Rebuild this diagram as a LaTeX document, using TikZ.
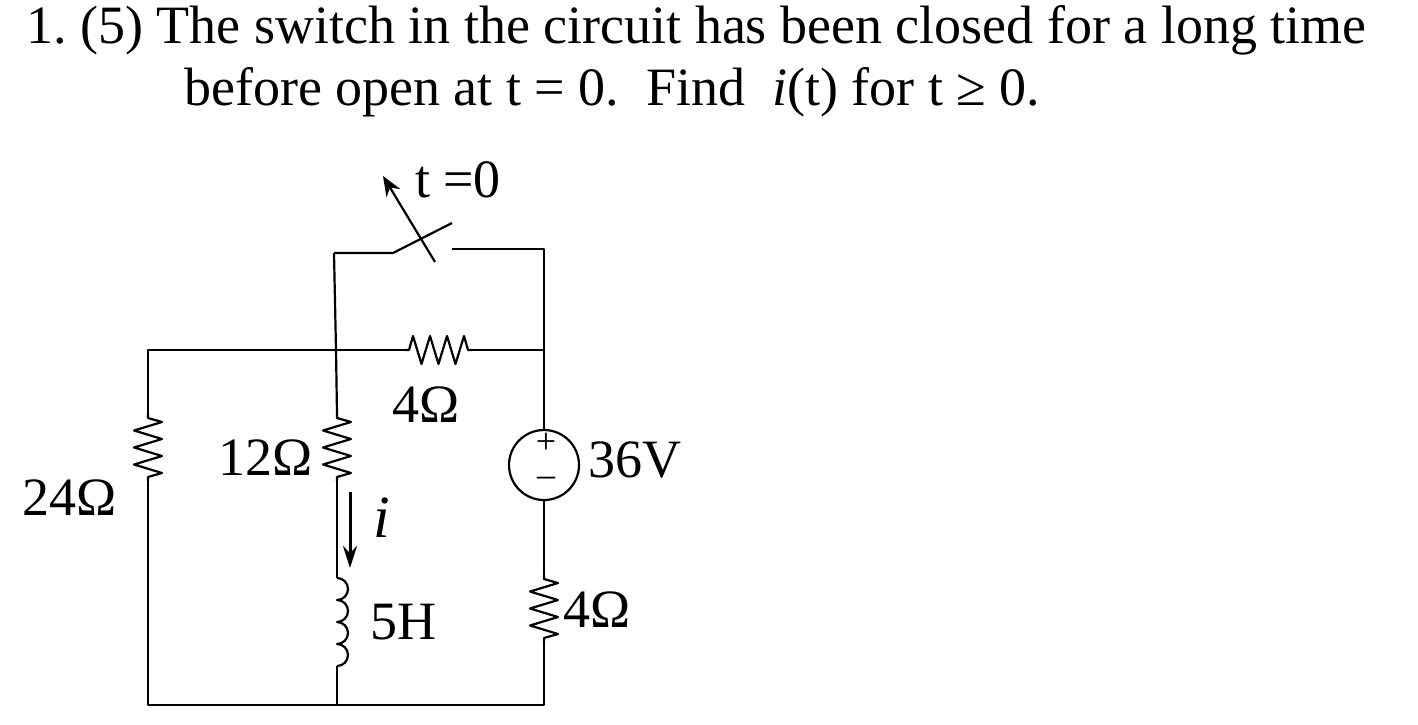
\documentclass[tikz,border=0pt]{standalone}
\usepackage{fontspec}
\setmainfont{Liberation Serif}
\usetikzlibrary{arrows.meta}
\begin{document}
\begin{tikzpicture}[x=1pt,y=-1pt,line width=2.2pt,line join=round,
  txt/.style={font=\fontsize{54}{64}\selectfont,inner sep=0pt}]
\newcommand{\myvres}[1]{\draw (#1) -- ++(0,4) -- ++(14,4) -- ++(-28,8.5) -- ++(28,8.5) -- ++(-28,8.5) -- ++(28,8.5) -- ++(-28,8.5) -- ++(28,8.5) -- ++(-14,4) -- ++(0,4);}
\useasboundingbox (0,0) rectangle (1418,724);
\node[txt,anchor=west] (l1) at (25,30) {1.\ (5) The switch in the circuit has been closed for a long time};
\node[txt,anchor=west] (l2) at (183,92) {before open at t = 0.\ \ Find \ \textit{i}(t) for t ≥ 0.};
% coordinates
\coordinate (TL) at (148,350); \coordinate (TM) at (336,350); \coordinate (TR) at (544,350);
\coordinate (BL) at (148,705); \coordinate (BM) at (337,705); \coordinate (BR) at (544,705);
\coordinate (R1a) at (148,414); \coordinate (R1b) at (148,481);
\coordinate (R2a) at (337,414); \coordinate (R2b) at (337,481);
\coordinate (La) at (337,578); \coordinate (Lb) at (337,666);
\coordinate (R3a) at (405,350); \coordinate (R3b) at (472,350);
\coordinate (R4a) at (544,575); \coordinate (R4b) at (544,642);
\coordinate (SL) at (334,253); \coordinate (SP) at (393,253); \coordinate (SE) at (452,223);
\coordinate (SC) at (452,249); \coordinate (SR) at (544,249);
\node[circle,draw,minimum size=70pt,inner sep=0pt] (V) at (544,465) {};
% wires
\draw (R1a) -- (TL) -- (R3a); \draw (R3b) -- (TR) -- (V.north);
\myvres{R1a}
\draw (R1b) -- (BL) -- (BR) -- (R4b);
\draw (TM) -- (R2a); \myvres{R2a} \draw (R2b) -- (La);
\draw (La) arc[start angle=90,end angle=-90,radius=11pt] arc[start angle=90,end angle=-90,radius=11pt]
  arc[start angle=90,end angle=-90,radius=11pt] arc[start angle=90,end angle=-90,radius=11pt] coordinate (Lb);
\draw (Lb) -- (BM);
\draw (R3a) -- ++(4,0) -- ++(4,-14) -- ++(8.5,28) -- ++(8.5,-28) -- ++(8.5,28) -- ++(8.5,-28) -- ++(8.5,28) -- ++(8.5,-28) -- ++(4,14) -- ++(4,0);
\draw (V.south) -- (R4a); \myvres{R4a}
\draw (SL) -- (TM); \draw (SL) -- (SP) -- (SE); \draw (SC) -- (SR) -- (TR);
\coordinate (A1) at (435,262); \coordinate (A2) at (383,176);
\draw[-{Stealth[length=20pt,width=16pt]}] (A1) -- (A2);
\coordinate (I1) at (350,492); \coordinate (I2) at (350,568);
\draw[-{Stealth[length=22pt,width=14pt]},line width=3pt] (I1) -- (I2);
% source signs
\node[txt,font=\fontsize{36}{40}\selectfont] (plus) at (546,443) {+};
\node[txt,font=\fontsize{36}{40}\selectfont] (minus) at (546,482) {–};
% labels
\node[txt] (t0) at (458,180) {t =0};
\node[txt] (r3l) at (426,405) {4Ω};
\node[txt] (r2l) at (266,458) {12Ω};
\node[txt] (r1l) at (70,498) {24Ω};
\node[txt,font=\fontsize{60}{70}\selectfont\itshape] (il) at (382,518) {i};
\node[txt] (vl) at (635,460) {36V};
\node[txt] (ll) at (403,622) {5H};
\node[txt] (r4l) at (597,610) {4Ω};
\end{tikzpicture}
\end{document}
